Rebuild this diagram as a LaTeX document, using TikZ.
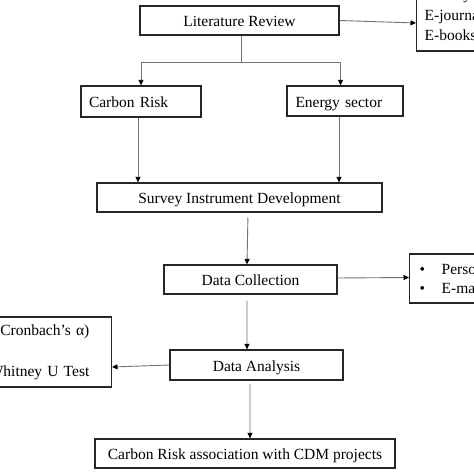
\documentclass[tikz,border=0pt]{standalone}
\usepackage{fontspec}
\setmainfont{Liberation Serif}
\usetikzlibrary{arrows.meta}
\begin{document}
\begin{tikzpicture}[x=1bp,y=-1bp,
  every node/.style={font=\fontsize{15.5bp}{19.5bp}\selectfont},
  box/.style={draw=black!85, line width=1.3bp, rectangle, inner sep=0pt, text height=12.3bp, text depth=0pt},
  lbox/.style={draw=black!85, line width=1.3bp, rectangle, inner ysep=0pt, inner xsep=8bp, align=left, text height=12.3bp, text depth=0pt},
  mbox/.style={draw=black!85, line width=1.3bp, rectangle, inner ysep=0pt, inner xsep=8bp},
  conn/.style={draw=black!55, line width=0.9bp},
  arr/.style={conn, -{Triangle[length=5.5bp,width=5bp,color=black]}}
]
\useasboundingbox (0,0) rectangle (474,474);
\clip (0,0) rectangle (474,474);
\fill[white] (0,0) rectangle (474,474);

\node[box, minimum width=199bp, minimum height=29bp] (lit) at (239.5,20.5) {Literature Review};
\node[mbox, anchor=west, minimum height=72bp, text width=160bp, align=left,
  font=\fontsize{15.5bp}{20.5bp}\selectfont] (lib) at (416,15) {Library databases\\E-journals\\E-books};

\node[lbox, text width=104bp, minimum height=31bp] (carbon) at (141,101.5) {Carbon Risk};
\node[lbox, text width=99bp, minimum height=30bp, inner xsep=8.5bp] (energy) at (345,101) {Energy sector};

\node[box, minimum width=285bp, minimum height=29bp] (survey) at (239.5,197.5) {Survey Instrument Development};

\node[box, minimum width=173bp, minimum height=29bp] (dc) at (250.5,279.5) {Data Collection};
\node[mbox, anchor=west, minimum height=49bp, text width=160bp, align=left, inner xsep=10bp,
  font=\fontsize{15.5bp}{18.5bp}\selectfont] (pers) at (409,278.5)
  {\makebox[22bp][l]{•}Personal visits\\\makebox[22bp][l]{•}E-mail};

\node[box, minimum width=173bp, minimum height=30bp] (da) at (256.5,365) {Data Analysis};
\node[mbox, anchor=east, minimum height=70bp, text width=200bp, align=right, inner xsep=22bp] (stat) at (112,352)
  {Reliability (Cronbach’s α)\\[21.5bp]Mann-Whitney U Test};

\node[box, minimum width=300bp, minimum height=29bp] (final) at (245,453.5) {Carbon Risk association with CDM projects};

% connectors
\draw[arr] (lit.east) -- ([yshift=-8bp]lib.west);
\coordinate (split) at ([xshift=1.5bp,yshift=-27bp]lit.south);
\draw[conn] ([xshift=1.5bp]lit.south) -- (split);
\draw[conn] (carbon.north |- split) -- ([xshift=-4.5bp]energy.north |- split);
\draw[arr] (carbon.north |- split) -- (carbon.north);
\draw[arr] ([xshift=-4.5bp]energy.north |- split) -- ([xshift=-4.5bp]energy.north);
\draw[arr] ([xshift=-3bp]carbon.south) -- ([xshift=-3bp]carbon.south |- survey.north);
\draw[arr] ([xshift=-6bp]energy.south) -- ([xshift=-6bp]energy.south |- survey.north);
\draw[arr, shorten <=5bp] ([xshift=8.5bp]survey.south) -- ([xshift=-3.5bp]dc.north);
\draw[arr] ([yshift=1.5bp]dc.east) -- ([yshift=1bp]pers.west);
\draw[arr, shorten <=6bp] ([xshift=-3.5bp]dc.south) -- ([xshift=-9.5bp]da.north);
\draw[arr] (da.west) -- ([yshift=-15bp]stat.east);
\draw[arr, shorten <=3bp] ([xshift=-6.5bp]da.south) -- ([xshift=5bp]final.north);
\end{tikzpicture}
\end{document}
